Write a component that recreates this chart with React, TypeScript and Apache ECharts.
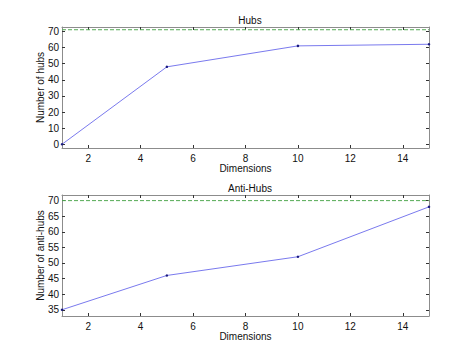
import React, { useEffect, useRef } from "react";
import * as echarts from "echarts";

const dims = [1, 5, 10, 15];
const hubs = [0, 48, 61, 62];
const antiHubs = [35, 46, 52, 68];
const hubsRef = 71;
const antiHubsRef = 70;
const xTicks = [2, 4, 6, 8, 10, 12, 14];
const hubTicks = [0, 10, 20, 30, 40, 50, 60, 70];
const antiTicks = [35, 40, 45, 50, 55, 60, 65, 70];

const FONT = "Liberation Sans";
const frame = "#8c8c8c";
const tickC = "#333";

export default function App() {
  const ref = useRef<HTMLDivElement>(null);
  useEffect(() => {
    const chart = echarts.init(ref.current!, null, { renderer: "svg" });
    const xa = (grid: number, main: boolean) => ({
      type: "value",
      gridIndex: grid,
      min: 1,
      max: 15,
      position: main ? "bottom" : "top",
      name: main ? "Dimensions" : "",
      nameLocation: "middle",
      nameGap: 14,
      nameTextStyle: { fontFamily: FONT, fontSize: 10, color: "#111" },
      axisLine: { show: true, onZero: false, lineStyle: { color: frame, width: 1 } },
      axisTick: { show: true, inside: true, length: 3, customValues: xTicks, lineStyle: { color: tickC } },
      axisLabel: { show: main, customValues: xTicks, fontFamily: FONT, fontSize: 10, color: "#111", margin: 5 },
      splitLine: { show: false },
    });
    const ya = (grid: number, main: boolean, min: number, max: number, ticks: number[], name: string) => ({
      type: "value",
      gridIndex: grid,
      min,
      max,
      position: main ? "left" : "right",
      name: main ? name : "",
      nameLocation: "middle",
      nameGap: 17,
      nameRotate: 90,
      nameMoveOverlap: false,
      nameTextStyle: { fontFamily: FONT, fontSize: 10, color: "#111" },
      axisLine: { show: true, onZero: false, lineStyle: { color: frame, width: 1 } },
      axisTick: { show: true, inside: true, length: 3, customValues: ticks, lineStyle: { color: tickC } },
      axisLabel: { show: main, customValues: ticks, fontFamily: FONT, fontSize: 10, color: "#111", margin: 3 },
      splitLine: { show: false },
    });
    const dataLine = (data: number[], idx: number) => ({
      type: "line",
      xAxisIndex: idx * 2,
      yAxisIndex: idx * 2,
      data: dims.map((d, i) => [d, data[i]]),
      symbol: "circle",
      symbolSize: 2.5,
      itemStyle: { color: "#1a1a80" },
      lineStyle: { color: "#7a7aee", width: 1 },
      z: 3,
    });
    const refLine = (v: number, idx: number) => ({
      type: "line",
      xAxisIndex: idx * 2,
      yAxisIndex: idx * 2,
      data: [[1, v], [15, v]],
      symbol: "none",
      lineStyle: { color: "#55aa55", width: 1, type: [4, 2] },
      z: 2,
    });
    chart.setOption({
      animation: false,
      backgroundColor: "#fff",
      title: [
        { text: "Hubs", left: 245, top: 10, textAlign: "center", textStyle: { fontFamily: FONT, fontSize: 10, fontWeight: "normal", color: "#111" } },
        { text: "Anti-Hubs", left: 245, top: 178, textAlign: "center", textStyle: { fontFamily: FONT, fontSize: 10, fontWeight: "normal", color: "#111" } },
      ],
      grid: [
        { left: 62, top: 27, width: 367, height: 121 },
        { left: 62, top: 195, width: 367, height: 121 },
      ],
      xAxis: [xa(0, true), xa(0, false), xa(1, true), xa(1, false)],
      yAxis: [
        ya(0, true, -2.3, 72.7, hubTicks, "Number of hubs"),
        ya(0, false, -2.3, 72.7, hubTicks, ""),
        ya(1, true, 33, 71.8, antiTicks, "Number of anti-hubs"),
        ya(1, false, 33, 71.8, antiTicks, ""),
      ],
      series: [refLine(hubsRef, 0), dataLine(hubs, 0), refLine(antiHubsRef, 1), dataLine(antiHubs, 1)],
    });
    return () => chart.dispose();
  }, []);
  return <div ref={ref} style={{ width: 474, height: 355, position: "absolute", left: 0, top: 0 }} />;
}
